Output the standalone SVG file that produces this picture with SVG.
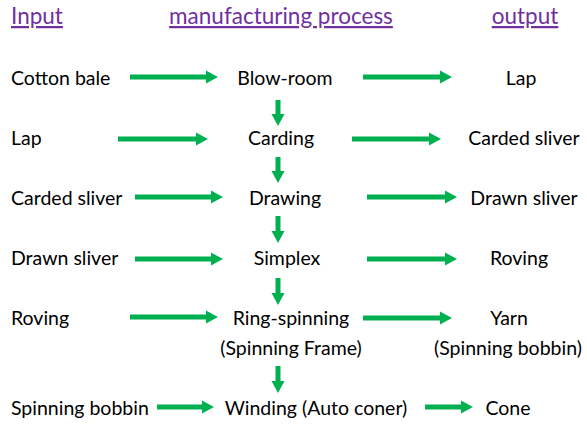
<svg xmlns="http://www.w3.org/2000/svg" width="587" height="436" viewBox="0 0 587 436">
<defs>
<style>
text{font-family:Lato,"Liberation Sans",sans-serif;font-size:19.5px;fill:#000}
.h{fill:#7030A0;text-decoration:underline;font-size:22.5px}
.m{text-anchor:middle}
.c line{stroke:#00B050;stroke-width:5;marker-end:url(#ah)}
</style>
<marker id="ah" markerUnits="userSpaceOnUse" markerWidth="12" markerHeight="13" refX="0" refY="6.5" orient="auto" overflow="visible">
<path d="M0,0 L12,6.5 L0,13 Z" fill="#00B050"/>
</marker>
</defs>
<rect width="587" height="436" fill="#fff"/>
<g id="headers">
<text class="h" x="11" y="24">Input</text>
<text class="h m" x="281" y="24">manufacturing process</text>
<text class="h m" x="525" y="24">output</text>
</g>
<g id="inputs">
<text id="in1" x="11" y="85">Cotton bale</text>
<text id="in2" x="11" y="145">Lap</text>
<text id="in3" x="11" y="205">Carded sliver</text>
<text id="in4" x="11" y="265">Drawn sliver</text>
<text id="in5" x="11" y="325">Roving</text>
<text id="in6" x="11" y="415">Spinning bobbin</text>
</g>
<g id="processes">
<text id="p1" class="m" x="285" y="85">Blow-room</text>
<text id="p2" class="m" x="281" y="145">Carding</text>
<text id="p3" class="m" x="285" y="205">Drawing</text>
<text id="p4" class="m" x="287" y="265">Simplex</text>
<g id="p5"><text class="m" x="291" y="325">Ring-spinning</text>
<text class="m" x="291" y="355">(Spinning Frame)</text></g>
<text id="p6" class="m" x="316" y="415">Winding (Auto coner)</text>
</g>
<g id="outputs">
<text id="o1" class="m" x="521" y="85">Lap</text>
<text id="o2" class="m" x="524" y="145">Carded sliver</text>
<text id="o3" class="m" x="524" y="205">Drawn sliver</text>
<text id="o4" class="m" x="519" y="265">Roving</text>
<g id="o5"><text class="m" x="509" y="325">Yarn</text>
<text class="m" x="508" y="355">(Spinning bobbin)</text></g>
<text id="o6" class="m" x="508" y="415">Cone</text>
</g>
<g id="connectors" class="c">
<line x1="130" y1="77" x2="206" y2="77"/>
<line x1="363" y1="77" x2="440" y2="77"/>
<line x1="118" y1="139" x2="196" y2="139"/>
<line x1="352" y1="139" x2="429" y2="139"/>
<line x1="135" y1="197" x2="211" y2="197"/>
<line x1="367" y1="197" x2="445" y2="197"/>
<line x1="135" y1="259" x2="211" y2="259"/>
<line x1="367" y1="259" x2="445" y2="259"/>
<line x1="130" y1="317" x2="206" y2="317"/>
<line x1="363" y1="318" x2="440" y2="318"/>
<line x1="157" y1="407" x2="202" y2="407"/>
<line x1="425" y1="407" x2="461" y2="407"/>
<line x1="278" y1="100" x2="278" y2="114"/>
<line x1="278" y1="157" x2="278" y2="171"/>
<line x1="278" y1="216" x2="278" y2="231"/>
<line x1="278" y1="278" x2="278" y2="293"/>
<line x1="278" y1="366" x2="278" y2="381"/>
</g>
</svg>
